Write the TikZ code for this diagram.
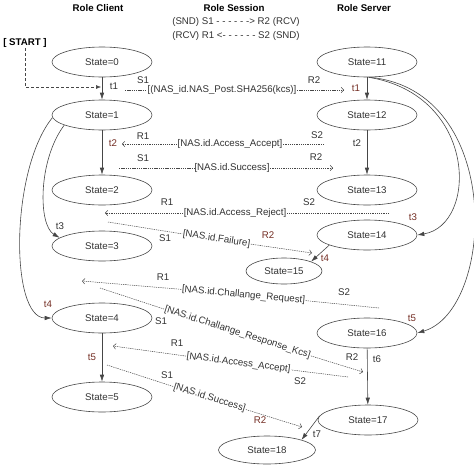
\documentclass[tikz,border=0pt]{standalone}
\usepackage{fontspec}
\setmainfont{Liberation Sans}
\usetikzlibrary{shapes.geometric,arrows.meta,calc}
\definecolor{dg}{RGB}{50,50,50}
\definecolor{ln}{RGB}{70,70,70}
\definecolor{br}{RGB}{115,45,35}
\begin{document}
\begin{tikzpicture}[x=1pt,y=-1pt,
  every node/.style={font=\fontsize{9.7}{11}\selectfont, text=dg, inner sep=0.5pt},
  st/.style={ellipse, draw=ln, line width=0.6pt, minimum width=100pt, minimum height=30pt, inner sep=0pt},
  tr/.style={draw=ln, line width=0.6pt, -{Latex[length=7pt,width=4.5pt]}},
  dl/.style={draw=ln, line width=0.5pt, dash pattern=on 1.3pt off 0.9pt},
  sdl/.style={draw=ln, line width=0.5pt, dash pattern=on 3pt off 2pt},
  tipr/.style={-{Straight Barb[length=2.5pt,width=5.5pt]}},
  tl/.style={text=br},
  ttl/.style={font=\fontsize{9.7}{11}\selectfont\bfseries, text=black}
]
\useasboundingbox (0,0) rectangle (474,466);
% titles and legend
\node[ttl] (hc) at (98,8) {Role Client};
\node[ttl] (hs) at (234,8) {Role Session};
\node[ttl] (hv) at (364,8) {Role Server};
\node (lg1) at (236,22) {(SND) S1 - - - - - -> R2 (RCV)};
\node (lg2) at (236,36) {(RCV) R1 <- - - - - - S2 (SND)};
\node[ttl] (start) at (25,43) {[ START ]};
% client states
\node[st] (s0) at (102,62) {State=0};
\node[st] (s1) at (102,115) {State=1};
\node[st] (s2) at (102,190) {State=2};
\node[st] (s3) at (102,246) {State=3};
\node[st] (s4) at (102,318) {State=4};
\node[st] (s5) at (102,397) {State=5};
% server states
\node[st] (s11) at (367,62) {State=11};
\node[st] (s12) at (367,115) {State=12};
\node[st] (s13) at (367,190) {State=13};
\node[st] (s14) at (367,235) {State=14};
\node[st, minimum width=76pt, minimum height=26pt] (s15) at (284,271) {State=15};
\node[st] (s16) at (367,333) {State=16};
\node[st] (s17) at (368,420) {State=17};
\node[st, minimum width=97pt, minimum height=28pt] (s18) at (267,450) {State=18};
% transitions
\coordinate (j1) at (101,87);
\draw[sdl, -{Latex[length=5pt,width=4pt]}] (start.south) |- (j1);
\draw[tr] (s0) -- (s1);
\draw[tr] (s1) -- (s2);
\draw[tr] (s4) -- (s5);
\draw[tr] (s11) -- (s12);
\draw[tr] (s12) -- (s13);
\draw[tr] (s16) -- (s17);
\draw[tr] (s14.195) -- (s15.north east);
\draw[tr] (s17.175) -- (s18.north east);
\draw[tr] (s1.195) .. controls (38,160) and (38,225) .. (s3.169);
\draw[tr] (s1.183) .. controls (10,170) and (10,318) .. (s4.west);
\draw[tr] (s11.-84) .. controls (478,95) and (478,225) .. (s14.east);
\draw[tr] (s11.-80) .. controls (505,90) and (495,310) .. (s16.east);
% transition labels
\node (lt1c) at (114,86) {t1};
\node[tl] (lt2c) at (113,143) {t2};
\node (lt3c) at (60,226) {t3};
\node[tl] (lt4c) at (48,304) {t4};
\node[tl] (lt5c) at (92,357) {t5};
\node[tl] (lt1s) at (356,88) {t1};
\node (lt2s) at (357,143) {t2};
\node[tl] (lt3s) at (413,217) {t3};
\node[tl] (lt4s) at (325,258) {t4};
\node[tl] (lt5s) at (412,318) {t5};
\node (lt6s) at (377,359) {t6};
\node (lt7s) at (317,434) {t7};
% messages
\node (m1) at (222,90) {[(NAS\_id.NAS\_Post.SHA256(kcs)]};
\coordinate (m1a) at (125,90); \coordinate (m1b) at (344,90);
\draw[dl] (m1a) -- (m1.west); \draw[dl,tipr] (m1.east) -- (m1b);
\node (m2) at (230,144) {[NAS.id.Access\_Accept]};
\coordinate (m2a) at (324,144); \coordinate (m2b) at (122,144);
\draw[dl] (m2a) -- (m2.east); \draw[dl,tipr] (m2.west) -- (m2b);
\node (m3) at (232,168) {[NAS.id.Success]};
\coordinate (m3a) at (119,168); \coordinate (m3b) at (333,168);
\draw[dl] (m3a) -- (m3.west); \draw[dl,tipr] (m3.east) -- (m3b);
\node (m4) at (235,213) {[NAS.id.Access\_Reject]};
\coordinate (m4a) at (389,213); \coordinate (m4b) at (105,213);
\draw[dl] (m4a) -- (m4.east); \draw[dl,tipr] (m4.west) -- (m4b);
\node[rotate=-8.5] (m5) at (216.5,239) {[NAS.id.Failure]};
\coordinate (m5a) at (108,222); \coordinate (m5b) at (312,253);
\draw[dl] (m5a) -- (m5.west); \draw[dl,tipr] (m5.east) -- (m5b);
\node[rotate=-5.2] (m6) at (243.5,295) {[NAS.id.Challange\_Request]};
\coordinate (m6a) at (379,308); \coordinate (m6b) at (82,281);
\draw[dl] (m6a) -- (m6.east); \draw[dl,tipr] (m6.west) -- (m6b);
\node[rotate=-17.7] (m7) at (237.5,332.5) {[NAS.id.Challange\_Response\_Kcs]};
\coordinate (m7a) at (100,288); \coordinate (m7b) at (363,372);
\draw[dl] (m7a) -- (m7.west); \draw[dl,tipr] (m7.east) -- (m7b);
\node[rotate=-7.5] (m8) at (238.5,363) {[NAS.id.Access\_Accept]};
\coordinate (m8a) at (348,377); \coordinate (m8b) at (113,346);
\draw[dl] (m8a) -- (m8.east); \draw[dl,tipr] (m8.west) -- (m8b);
\node[rotate=-17.6] (m9) at (209.5,398) {[NAS.id.Success]};
\coordinate (m9a) at (107,365); \coordinate (m9b) at (302,427);
\draw[dl] (m9a) -- (m9.west); \draw[dl,tipr] (m9.east) -- (m9b);
% message role labels
\node (l1a) at (143,80) {S1}; \node (l1b) at (314,80) {R2};
\node (l2a) at (143,136) {R1}; \node (l2b) at (317,135) {S2};
\node (l3a) at (143,158) {S1}; \node (l3b) at (316,157) {R2};
\node (l4a) at (167,202) {R1}; \node (l4b) at (309,202) {S2};
\node (l5a) at (165,238) {S1}; \node[tl] (l5b) at (268,235) {R2};
\node (l6a) at (163,277) {R1}; \node (l6b) at (344,292) {S2};
\node (l7a) at (161,321) {S1}; \node (l7b) at (352,357) {R2};
\node (l8a) at (177,343) {R1}; \node (l8b) at (300,381) {S2};
\node (l9a) at (167,375) {S1}; \node[tl] (l9b) at (260,420) {R2};
\end{tikzpicture}
\end{document}
